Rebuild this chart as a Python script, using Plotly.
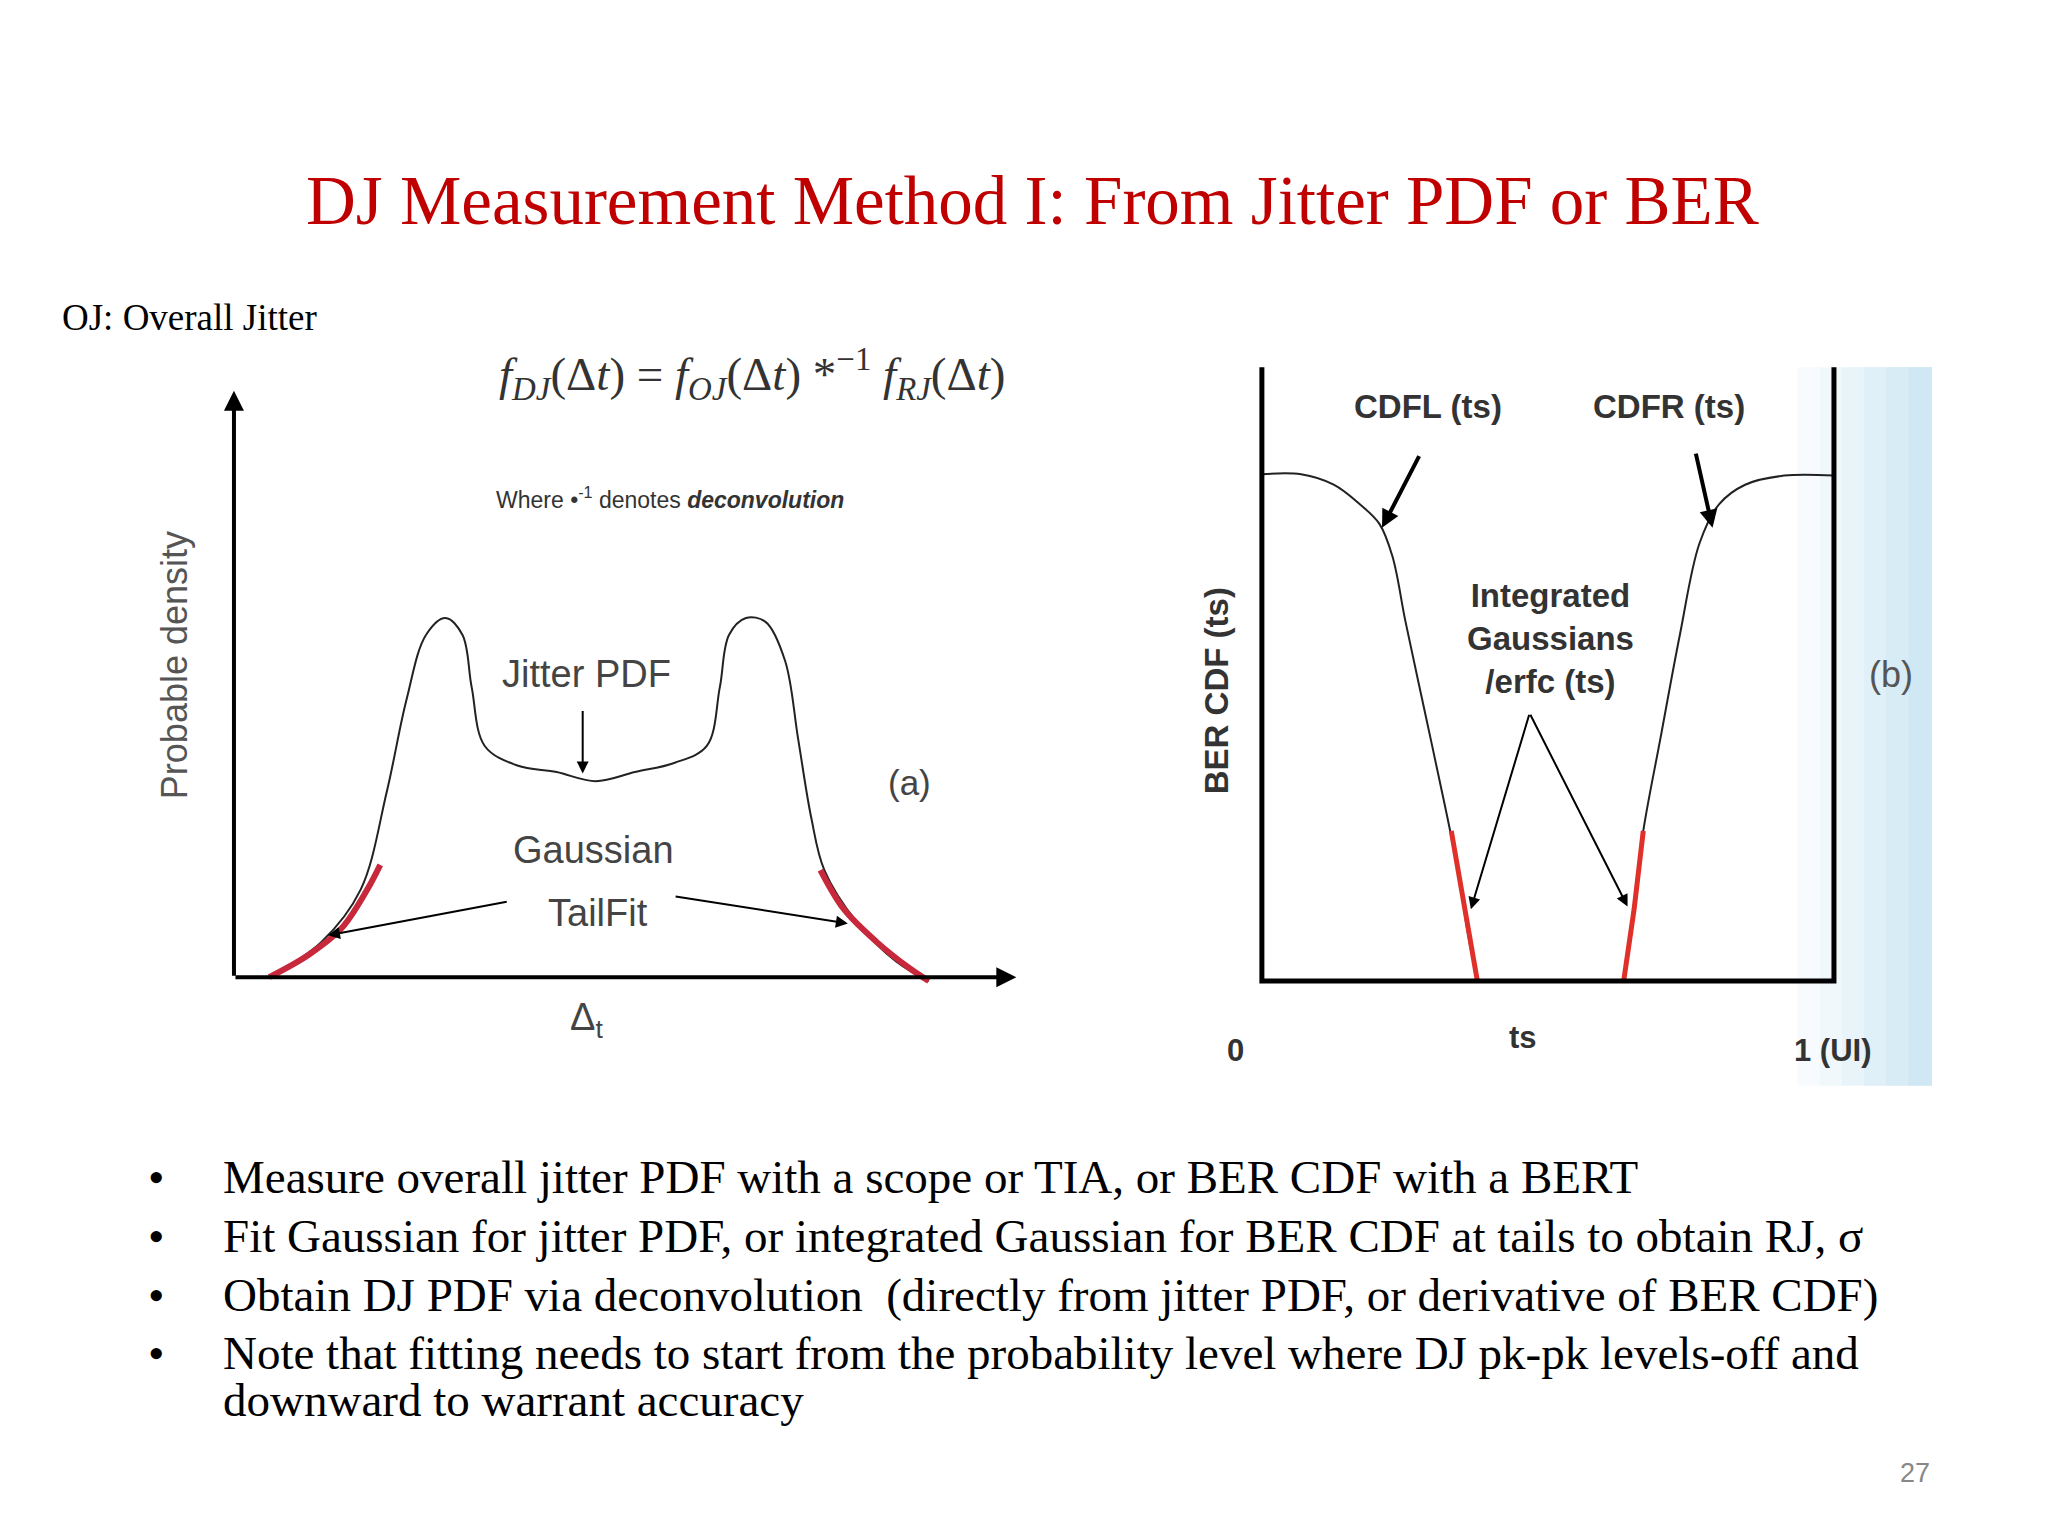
import plotly.graph_objects as go

# all positions, in slide pixels (1568 x 1176 grid)
W, H = 1568, 1176

# panel (a) jitter pdf
pdf_x = [200, 240, 270, 290, 305, 320, 335, 348, 355, 365, 390, 420, 450, 480, 510, 535, 545, 552, 565, 580, 595, 605, 615, 625, 650, 680, 705]
pdf_y = [742, 715, 675, 600, 530, 480, 467, 480, 520, 565, 580, 585, 592, 585, 578, 565, 520, 480, 467, 470, 500, 560, 620, 660, 700, 730, 745]
tail_l_x = [200, 230, 255, 275, 285]
tail_l_y = [742, 725, 705, 675, 656]
tail_r_x = [622, 640, 665, 690, 705]
tail_r_y = [660, 690, 715, 735, 745]

# panel (b) BER CDF
cdf_x = [960, 990, 1015, 1035, 1050, 1060, 1070, 1085, 1100, 1110, 1118, 1125, None,
         1237, 1243, 1252, 1265, 1280, 1295, 1310, 1330, 1360, 1398]
cdf_y = [357, 357, 365, 380, 395, 420, 470, 540, 610, 660, 710, 745, None,
         745, 700, 630, 560, 480, 410, 380, 365, 358, 358]
fit_l_x = [1105, 1115, 1125]
fit_l_y = [630, 690, 745]
fit_r_x = [1237, 1245, 1252]
fit_r_y = [745, 690, 630]

bullets = [
    "Measure overall jitter PDF with a scope or TIA, or BER CDF with a BERT",
    "Fit Gaussian for jitter PDF, or integrated Gaussian for BER CDF at tails to obtain RJ, σ",
    "Obtain DJ PDF via deconvolution  (directly from jitter PDF, or derivative of BER CDF)",
    "Note that fitting needs to start from the probability level where DJ pk-pk levels-off and",
    "downward to warrant accuracy",
]
bullet_y = [895, 940, 985, 1030, 1066]

RED = "#C8283C"
SERIF = "Liberation Serif"
SANS = "Liberation Sans"

fig = go.Figure()

# soft light blue backdrop at right of panel (b)
blues = ["#f7fbfe", "#f0f8fc", "#e8f4fa", "#e0f0f8", "#d8ecf6", "#d0e8f4"]
for i, c in enumerate(blues):
    fig.add_shape(type="rect", x0=1370 + i * 17, x1=1473, y0=275, y1=825, line_width=0, fillcolor=c, layer="below")

fig.add_trace(go.Scatter(x=pdf_x, y=pdf_y, mode="lines", line=dict(color="#222", width=2, shape="spline")))
fig.add_trace(go.Scatter(x=tail_l_x, y=tail_l_y, mode="lines", line=dict(color=RED, width=6, shape="spline")))
fig.add_trace(go.Scatter(x=tail_r_x, y=tail_r_y, mode="lines", line=dict(color=RED, width=6, shape="spline")))
fig.add_trace(go.Scatter(x=cdf_x, y=cdf_y, mode="lines", line=dict(color="#222", width=2, shape="spline")))
fig.add_trace(go.Scatter(x=fit_l_x, y=fit_l_y, mode="lines", line=dict(color="#E0302A", width=5)))
fig.add_trace(go.Scatter(x=fit_r_x, y=fit_r_y, mode="lines", line=dict(color="#E0302A", width=5)))

# box of panel (b)
fig.add_trace(go.Scatter(x=[960, 960, 1398, 1398], y=[275, 745, 745, 275], mode="lines",
                         line=dict(color="black", width=5)))


def arrow(x, y, ax, ay, w=2, size=1.2):
    fig.add_annotation(x=x, y=y, ax=ax, ay=ay, xref="x", yref="y", axref="x", ayref="y",
                       text="", showarrow=True, arrowhead=2, arrowsize=size, arrowwidth=w, arrowcolor="black")


def text(x, y, s, size, color="#333", font=SANS, angle=0, xanchor="center"):
    fig.add_annotation(x=x, y=y, xref="x", yref="y", text=s, showarrow=False, textangle=angle,
                       xanchor=xanchor, font=dict(family=font, size=size, color=color))


# axes of panel (a)
arrow(772, 742, 173, 742, w=4, size=1)
arrow(173, 293, 173, 742, w=4, size=1)
arrow(440, 586, 440, 537)
arrow(245, 710, 383, 684)
arrow(643, 701, 510, 680)
arrow(1052, 398, 1081, 342, w=4, size=0.9)
arrow(1305, 398, 1292, 340, w=4, size=0.9)
arrow(1120, 690, 1165, 540)
arrow(1240, 688, 1165, 540)

text(784, 148, "DJ Measurement Method I: From Jitter PDF or BER", 69, "#C00000", SERIF)
text(40, 237, "OJ: Overall Jitter", 37, "black", SERIF, xanchor="left")
text(570, 280, "<i>f</i><sub><i>DJ</i></sub>(Δ<i>t</i>) = <i>f</i><sub><i>OJ</i></sub>(Δ<i>t</i>) *<sup>−1</sup> "
     "<i>f</i><sub><i>RJ</i></sub>(Δ<i>t</i>)", 47, "#333", SERIF)
text(507, 375, "Where •<sup>-1</sup> denotes <b><i>deconvolution</i></b>", 23, "#333")
text(128, 503, "Probable density", 36, "#555", angle=-90)
text(443, 510, "Jitter PDF", 38, "#444")
text(690, 593, "(a)", 35, "#444")
text(448, 645, "Gaussian", 38, "#444")
text(452, 693, "TailFit", 38, "#444")
text(443, 775, "Δ<sub>t</sub>", 38, "#444")

text(1087, 305, "<b>CDFL (ts)</b>", 33, "#333")
text(1272, 305, "<b>CDFR (ts)</b>", 33, "#333")
text(1181, 483, "<b>Integrated<br>Gaussians<br>/erfc (ts)</b>", 33, "#333")
text(925, 523, "<b>BER CDF (ts)</b>", 33, "#333", angle=-90)
text(1442, 510, "(b)", 36, "#555")
text(940, 798, "<b>0</b>", 31, "#333")
text(1160, 788, "<b>ts</b>", 31, "#333")
text(1397, 798, "<b>1 (UI)</b>", 31, "#333")

for i, (s, y) in enumerate(zip(bullets, bullet_y)):
    if i < 4:
        text(113, y, "•", 47, "black", SERIF)
    text(163, y, s, 47, "black", SERIF, xanchor="left")

text(1460, 1122, "27", 27, "#888")

fig.update_layout(
    width=2048, height=1536, margin=dict(l=0, r=0, t=0, b=0),
    paper_bgcolor="white", plot_bgcolor="white", showlegend=False,
    xaxis=dict(range=[0, W], visible=False, fixedrange=True),
    yaxis=dict(range=[H, 0], visible=False, fixedrange=True),
)

fig.write_html("out.html")
